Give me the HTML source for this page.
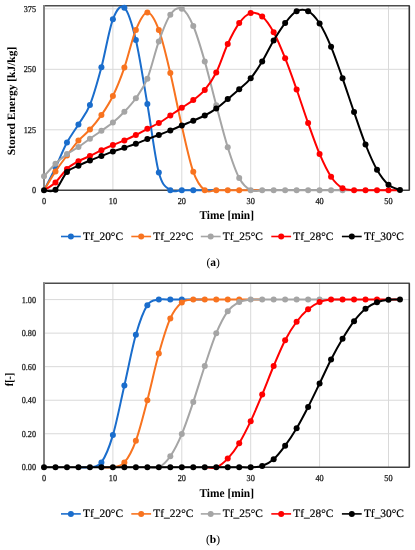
<!DOCTYPE html>
<html><head><meta charset="utf-8"><style>
html,body{margin:0;padding:0;background:#fff;}
svg{display:block;text-rendering:geometricPrecision;}
.tk{font-family:"Liberation Serif",serif;font-size:9px;fill:#262626;stroke:#262626;stroke-width:0.3px;}
.ttl{font-family:"Liberation Serif",serif;font-size:11.2px;font-weight:bold;fill:#000;}
.lg{font-family:"Liberation Serif",serif;font-size:11.4px;fill:#000;stroke:#000;stroke-width:0.2px;}
.cap{font-family:"Liberation Serif",serif;font-size:11.5px;font-weight:bold;fill:#000;}
</style></head><body>
<svg width="415" height="550" viewBox="0 0 415 550">
<rect width="415" height="550" fill="#fff"/>
<line x1="45" y1="129.8" x2="409.0" y2="129.8" stroke="#d9d9d9" stroke-width="1"/>
<line x1="45" y1="69.30000000000001" x2="409.0" y2="69.30000000000001" stroke="#d9d9d9" stroke-width="1"/>
<line x1="45" y1="8.800000000000011" x2="409.0" y2="8.800000000000011" stroke="#d9d9d9" stroke-width="1"/>
<line x1="112.90" y1="5.7" x2="112.90" y2="190.2" stroke="#d9d9d9" stroke-width="1"/>
<line x1="181.80" y1="5.7" x2="181.80" y2="190.2" stroke="#d9d9d9" stroke-width="1"/>
<line x1="250.70" y1="5.7" x2="250.70" y2="190.2" stroke="#d9d9d9" stroke-width="1"/>
<line x1="319.60" y1="5.7" x2="319.60" y2="190.2" stroke="#d9d9d9" stroke-width="1"/>
<line x1="388.50" y1="5.7" x2="388.50" y2="190.2" stroke="#d9d9d9" stroke-width="1"/>
<line x1="43" y1="5.7" x2="409.75" y2="5.7" stroke="#4d4d4d" stroke-width="1.6"/>
<line x1="409.3" y1="5.7" x2="409.3" y2="190.2" stroke="#333" stroke-width="1.6"/>
<line x1="43" y1="190.2" x2="409.75" y2="190.2" stroke="#404040" stroke-width="1.4"/>
<line x1="44" y1="4.9" x2="44" y2="190.89999999999998" stroke="#828282" stroke-width="2"/>
<path d="M44.00,190.30 C45.91,186.52 51.66,175.57 55.48,167.60 C59.31,159.63 63.14,149.70 66.97,142.50 C70.79,135.30 74.62,130.67 78.45,124.40 C82.28,118.13 86.10,114.42 89.93,104.90 C93.76,95.38 97.59,81.57 101.42,67.30 C105.24,53.03 109.07,29.23 112.90,19.30 C116.73,9.37 120.55,4.27 124.38,7.70 C128.21,11.13 132.04,23.85 135.86,39.90 C139.69,55.95 143.52,81.88 147.35,104.00 C151.17,126.12 155.00,158.23 158.83,172.60 C162.66,186.97 166.49,187.27 170.31,190.20 C174.14,193.13 177.97,190.20 181.80,190.20 C185.62,190.20 189.45,190.20 193.28,190.20 C197.11,190.20 200.93,190.20 204.76,190.20 C208.59,190.20 212.42,190.20 216.25,190.20" fill="none" stroke="#1a6dcc" stroke-width="2.0" stroke-linejoin="round"/>
<g fill="#1a6dcc"><circle cx="55.48" cy="167.60" r="3.0"/><circle cx="66.97" cy="142.50" r="3.0"/><circle cx="78.45" cy="124.40" r="3.0"/><circle cx="89.93" cy="104.90" r="3.0"/><circle cx="101.42" cy="67.30" r="3.0"/><circle cx="112.90" cy="19.30" r="3.0"/><circle cx="124.38" cy="7.70" r="3.0"/><circle cx="135.86" cy="39.90" r="3.0"/><circle cx="147.35" cy="104.00" r="3.0"/><circle cx="158.83" cy="172.60" r="3.0"/><circle cx="170.31" cy="190.20" r="3.0"/><circle cx="181.80" cy="190.20" r="3.0"/><circle cx="193.28" cy="190.20" r="3.0"/></g>
<path d="M44.00,190.30 C45.91,187.15 51.66,177.20 55.48,171.40 C59.31,165.60 63.14,160.63 66.97,155.50 C70.79,150.37 74.62,144.93 78.45,140.60 C82.28,136.27 86.10,133.75 89.93,129.50 C93.76,125.25 97.59,120.68 101.42,115.10 C105.24,109.52 109.07,103.92 112.90,96.00 C116.73,88.08 120.55,78.62 124.38,67.60 C128.21,56.58 132.04,39.08 135.86,29.90 C139.69,20.72 143.52,12.50 147.35,12.50 C151.17,12.50 155.00,19.80 158.83,29.90 C162.66,40.00 166.49,57.08 170.31,73.10 C174.14,89.12 177.97,109.55 181.80,126.00 C185.62,142.45 189.45,161.10 193.28,171.80 C197.11,182.50 200.93,187.13 204.76,190.20 C208.59,193.27 212.42,190.20 216.25,190.20 C220.07,190.20 223.90,190.20 227.73,190.20 C231.56,190.20 235.38,190.20 239.21,190.20 C243.04,190.20 246.87,190.20 250.69,190.20 C254.52,190.20 258.35,190.20 262.18,190.20" fill="none" stroke="#f8731f" stroke-width="2.0" stroke-linejoin="round"/>
<g fill="#f8731f"><circle cx="55.48" cy="171.40" r="3.0"/><circle cx="66.97" cy="155.50" r="3.0"/><circle cx="78.45" cy="140.60" r="3.0"/><circle cx="89.93" cy="129.50" r="3.0"/><circle cx="101.42" cy="115.10" r="3.0"/><circle cx="112.90" cy="96.00" r="3.0"/><circle cx="124.38" cy="67.60" r="3.0"/><circle cx="135.86" cy="29.90" r="3.0"/><circle cx="147.35" cy="12.50" r="3.0"/><circle cx="158.83" cy="29.90" r="3.0"/><circle cx="170.31" cy="73.10" r="3.0"/><circle cx="193.28" cy="171.80" r="3.0"/><circle cx="204.76" cy="190.20" r="3.0"/><circle cx="216.25" cy="190.20" r="3.0"/><circle cx="227.73" cy="190.20" r="3.0"/><circle cx="239.21" cy="190.20" r="3.0"/></g>
<path d="M44.00,176.30 C45.91,174.20 51.66,167.40 55.48,163.70 C59.31,160.00 63.14,156.88 66.97,154.10 C70.79,151.32 74.62,149.57 78.45,147.00 C82.28,144.43 86.10,141.40 89.93,138.70 C93.76,136.00 97.59,133.50 101.42,130.80 C105.24,128.10 109.07,125.68 112.90,122.50 C116.73,119.32 120.55,115.75 124.38,111.70 C128.21,107.65 132.04,103.70 135.86,98.20 C139.69,92.70 143.52,88.17 147.35,78.70 C151.17,69.23 155.00,52.05 158.83,41.40 C162.66,30.75 166.49,20.25 170.31,14.80 C174.14,9.35 177.97,6.83 181.80,8.70 C185.62,10.57 189.45,17.22 193.28,26.00 C197.11,34.78 200.93,48.18 204.76,61.40 C208.59,74.62 212.42,91.00 216.25,105.30 C220.07,119.60 223.90,135.08 227.73,147.20 C231.56,159.32 235.38,170.83 239.21,178.00 C243.04,185.17 246.87,188.17 250.69,190.20 C254.52,192.23 258.35,190.20 262.18,190.20 C266.00,190.20 269.83,190.20 273.66,190.20 C277.49,190.20 281.32,190.20 285.14,190.20 C288.97,190.20 292.80,190.20 296.63,190.20 C300.45,190.20 304.28,190.20 308.11,190.20 C311.94,190.20 315.76,190.20 319.59,190.20 C323.42,190.20 327.25,190.20 331.07,190.20 C334.90,190.20 338.73,190.20 342.56,190.20 C346.39,190.20 350.21,190.20 354.04,190.20 C357.87,190.20 361.70,190.20 365.52,190.20" fill="none" stroke="#a5a5a5" stroke-width="2.0" stroke-linejoin="round"/>
<g fill="#a5a5a5"><circle cx="44.00" cy="176.30" r="3.0"/><circle cx="55.48" cy="163.70" r="3.0"/><circle cx="66.97" cy="154.10" r="3.0"/><circle cx="78.45" cy="147.00" r="3.0"/><circle cx="89.93" cy="138.70" r="3.0"/><circle cx="101.42" cy="130.80" r="3.0"/><circle cx="112.90" cy="122.50" r="3.0"/><circle cx="124.38" cy="111.70" r="3.0"/><circle cx="135.86" cy="98.20" r="3.0"/><circle cx="147.35" cy="78.70" r="3.0"/><circle cx="158.83" cy="41.40" r="3.0"/><circle cx="170.31" cy="14.80" r="3.0"/><circle cx="181.80" cy="8.70" r="3.0"/><circle cx="193.28" cy="26.00" r="3.0"/><circle cx="204.76" cy="61.40" r="3.0"/><circle cx="216.25" cy="105.30" r="3.0"/><circle cx="227.73" cy="147.20" r="3.0"/><circle cx="239.21" cy="178.00" r="3.0"/><circle cx="250.69" cy="190.20" r="3.0"/><circle cx="262.18" cy="190.20" r="3.0"/><circle cx="273.66" cy="190.20" r="3.0"/><circle cx="285.14" cy="190.20" r="3.0"/><circle cx="296.63" cy="190.20" r="3.0"/><circle cx="308.11" cy="190.20" r="3.0"/><circle cx="319.59" cy="190.20" r="3.0"/><circle cx="331.07" cy="190.20" r="3.0"/><circle cx="342.56" cy="190.20" r="3.0"/></g>
<path d="M44.00,190.30 C45.91,188.98 51.66,185.97 55.48,182.40 C59.31,178.83 63.14,172.43 66.97,168.90 C70.79,165.37 74.62,163.35 78.45,161.20 C82.28,159.05 86.10,157.83 89.93,156.00 C93.76,154.17 97.59,152.03 101.42,150.20 C105.24,148.37 109.07,146.63 112.90,145.00 C116.73,143.37 120.55,142.07 124.38,140.40 C128.21,138.73 132.04,136.93 135.86,135.00 C139.69,133.07 143.52,130.80 147.35,128.80 C151.17,126.80 155.00,125.22 158.83,123.00 C162.66,120.78 166.49,118.03 170.31,115.50 C174.14,112.97 177.97,110.37 181.80,107.80 C185.62,105.23 189.45,103.08 193.28,100.10 C197.11,97.12 200.93,94.50 204.76,89.90 C208.59,85.30 212.42,80.15 216.25,72.50 C220.07,64.85 223.90,52.23 227.73,44.00 C231.56,35.77 235.38,28.25 239.21,23.10 C243.04,17.95 246.87,14.22 250.69,13.10 C254.52,11.98 258.35,13.22 262.18,16.40 C266.00,19.58 269.83,25.23 273.66,32.20 C277.49,39.17 281.32,48.65 285.14,58.20 C288.97,67.75 292.80,78.68 296.63,89.50 C300.45,100.32 304.28,112.37 308.11,123.10 C311.94,133.83 315.76,144.97 319.59,153.90 C323.42,162.83 327.25,170.98 331.07,176.70 C334.90,182.42 338.73,185.95 342.56,188.20 C346.39,190.45 350.21,189.87 354.04,190.20 C357.87,190.53 361.70,190.20 365.52,190.20 C369.35,190.20 373.18,190.20 377.01,190.20 C380.83,190.20 384.66,190.20 388.49,190.20 C392.32,190.20 398.06,190.20 399.97,190.20" fill="none" stroke="#ff0000" stroke-width="2.0" stroke-linejoin="round"/>
<g fill="#ff0000"><circle cx="55.48" cy="182.40" r="3.0"/><circle cx="66.97" cy="168.90" r="3.0"/><circle cx="78.45" cy="161.20" r="3.0"/><circle cx="89.93" cy="156.00" r="3.0"/><circle cx="101.42" cy="150.20" r="3.0"/><circle cx="112.90" cy="145.00" r="3.0"/><circle cx="124.38" cy="140.40" r="3.0"/><circle cx="135.86" cy="135.00" r="3.0"/><circle cx="147.35" cy="128.80" r="3.0"/><circle cx="158.83" cy="123.00" r="3.0"/><circle cx="170.31" cy="115.50" r="3.0"/><circle cx="181.80" cy="107.80" r="3.0"/><circle cx="193.28" cy="100.10" r="3.0"/><circle cx="204.76" cy="89.90" r="3.0"/><circle cx="216.25" cy="72.50" r="3.0"/><circle cx="227.73" cy="44.00" r="3.0"/><circle cx="239.21" cy="23.10" r="3.0"/><circle cx="250.69" cy="13.10" r="3.0"/><circle cx="262.18" cy="16.40" r="3.0"/><circle cx="273.66" cy="32.20" r="3.0"/><circle cx="285.14" cy="58.20" r="3.0"/><circle cx="296.63" cy="89.50" r="3.0"/><circle cx="308.11" cy="123.10" r="3.0"/><circle cx="319.59" cy="153.90" r="3.0"/><circle cx="331.07" cy="176.70" r="3.0"/><circle cx="342.56" cy="188.20" r="3.0"/><circle cx="354.04" cy="190.20" r="3.0"/><circle cx="365.52" cy="190.20" r="3.0"/><circle cx="377.01" cy="190.20" r="3.0"/><circle cx="388.49" cy="190.20" r="3.0"/></g>
<path d="M44.00,190.30 C45.91,190.22 51.66,192.85 55.48,189.80 C59.31,186.75 63.14,176.02 66.97,172.00 C70.79,167.98 74.62,167.62 78.45,165.70 C82.28,163.78 86.10,162.12 89.93,160.50 C93.76,158.88 97.59,157.48 101.42,156.00 C105.24,154.52 109.07,152.98 112.90,151.60 C116.73,150.22 120.55,149.02 124.38,147.70 C128.21,146.38 132.04,145.13 135.86,143.70 C139.69,142.27 143.52,140.55 147.35,139.10 C151.17,137.65 155.00,136.45 158.83,135.00 C162.66,133.55 166.49,131.98 170.31,130.40 C174.14,128.82 177.97,127.12 181.80,125.50 C185.62,123.88 189.45,122.37 193.28,120.70 C197.11,119.03 200.93,117.52 204.76,115.50 C208.59,113.48 212.42,111.33 216.25,108.60 C220.07,105.87 223.90,102.32 227.73,99.10 C231.56,95.88 235.38,92.77 239.21,89.30 C243.04,85.83 246.87,82.93 250.69,78.30 C254.52,73.67 258.35,67.80 262.18,61.50 C266.00,55.20 269.83,46.90 273.66,40.50 C277.49,34.10 281.32,27.98 285.14,23.10 C288.97,18.22 292.80,13.18 296.63,11.20 C300.45,9.22 304.28,9.15 308.11,11.20 C311.94,13.25 315.76,17.57 319.59,23.50 C323.42,29.43 327.25,37.67 331.07,46.80 C334.90,55.93 338.73,67.42 342.56,78.30 C346.39,89.18 350.21,101.07 354.04,112.10 C357.87,123.13 361.70,134.88 365.52,144.50 C369.35,154.12 373.18,163.08 377.01,169.80 C380.83,176.52 384.66,181.43 388.49,184.80 C392.32,188.17 398.06,189.13 399.97,190.00" fill="none" stroke="#000000" stroke-width="2.0" stroke-linejoin="round"/>
<g fill="#000000"><circle cx="44.00" cy="190.30" r="3.0"/><circle cx="55.48" cy="189.80" r="3.0"/><circle cx="66.97" cy="172.00" r="3.0"/><circle cx="78.45" cy="165.70" r="3.0"/><circle cx="89.93" cy="160.50" r="3.0"/><circle cx="101.42" cy="156.00" r="3.0"/><circle cx="112.90" cy="151.60" r="3.0"/><circle cx="124.38" cy="147.70" r="3.0"/><circle cx="135.86" cy="143.70" r="3.0"/><circle cx="147.35" cy="139.10" r="3.0"/><circle cx="158.83" cy="135.00" r="3.0"/><circle cx="170.31" cy="130.40" r="3.0"/><circle cx="181.80" cy="125.50" r="3.0"/><circle cx="193.28" cy="120.70" r="3.0"/><circle cx="204.76" cy="115.50" r="3.0"/><circle cx="216.25" cy="108.60" r="3.0"/><circle cx="227.73" cy="99.10" r="3.0"/><circle cx="239.21" cy="89.30" r="3.0"/><circle cx="250.69" cy="78.30" r="3.0"/><circle cx="262.18" cy="61.50" r="3.0"/><circle cx="273.66" cy="40.50" r="3.0"/><circle cx="285.14" cy="23.10" r="3.0"/><circle cx="296.63" cy="11.20" r="3.0"/><circle cx="308.11" cy="11.20" r="3.0"/><circle cx="319.59" cy="23.50" r="3.0"/><circle cx="331.07" cy="46.80" r="3.0"/><circle cx="342.56" cy="78.30" r="3.0"/><circle cx="354.04" cy="112.10" r="3.0"/><circle cx="365.52" cy="144.50" r="3.0"/><circle cx="377.01" cy="169.80" r="3.0"/><circle cx="388.49" cy="184.80" r="3.0"/><circle cx="399.97" cy="190.00" r="3.0"/></g>
<text transform="translate(36.0,193.30) scale(0.91,1)" text-anchor="end" class="tk">0</text>
<text transform="translate(36.0,132.90) scale(0.91,1)" text-anchor="end" class="tk">125</text>
<text transform="translate(36.0,72.40) scale(0.91,1)" text-anchor="end" class="tk">250</text>
<text transform="translate(36.0,11.90) scale(0.91,1)" text-anchor="end" class="tk">375</text>
<text transform="translate(44.00,203.70) scale(0.92,1)" text-anchor="middle" class="tk">0</text>
<text transform="translate(112.90,203.70) scale(0.92,1)" text-anchor="middle" class="tk">10</text>
<text transform="translate(181.80,203.70) scale(0.92,1)" text-anchor="middle" class="tk">20</text>
<text transform="translate(250.70,203.70) scale(0.92,1)" text-anchor="middle" class="tk">30</text>
<text transform="translate(319.60,203.70) scale(0.92,1)" text-anchor="middle" class="tk">40</text>
<text transform="translate(388.50,203.70) scale(0.92,1)" text-anchor="middle" class="tk">50</text>
<text transform="translate(14.9,101.0) rotate(-90) scale(1.023,1)" text-anchor="middle" class="ttl">Stored Energy [kJ/kg]</text>
<text transform="translate(226.7,219.0) scale(0.95,1)" text-anchor="middle" class="ttl" style="font-size:12px">Time [min]</text>
<line x1="61.0" y1="236.5" x2="80.8" y2="236.5" stroke="#1a6dcc" stroke-width="1.6"/>
<circle cx="70.90" cy="236.5" r="3.0" fill="#1a6dcc"/>
<text x="83.00" y="240.00" class="lg">Tf_20°C</text>
<line x1="131.3" y1="236.5" x2="151.10000000000002" y2="236.5" stroke="#f8731f" stroke-width="1.6"/>
<circle cx="141.20" cy="236.5" r="3.0" fill="#f8731f"/>
<text x="153.30" y="240.00" class="lg">Tf_22°C</text>
<line x1="200.8" y1="236.5" x2="220.60000000000002" y2="236.5" stroke="#a5a5a5" stroke-width="1.6"/>
<circle cx="210.70" cy="236.5" r="3.0" fill="#a5a5a5"/>
<text x="222.80" y="240.00" class="lg">Tf_25°C</text>
<line x1="271.3" y1="236.5" x2="291.1" y2="236.5" stroke="#ff0000" stroke-width="1.6"/>
<circle cx="281.20" cy="236.5" r="3.0" fill="#ff0000"/>
<text x="293.30" y="240.00" class="lg">Tf_28°C</text>
<line x1="341.9" y1="236.5" x2="361.7" y2="236.5" stroke="#000000" stroke-width="1.6"/>
<circle cx="351.80" cy="236.5" r="3.0" fill="#000000"/>
<text x="363.90" y="240.00" class="lg">Tf_30°C</text>
<text x="213.1" y="266.2" text-anchor="middle" class="cap"><tspan font-weight="normal">(</tspan>a<tspan font-weight="normal">)</tspan></text>
<line x1="45" y1="433.76" x2="409.0" y2="433.76" stroke="#d9d9d9" stroke-width="1"/>
<line x1="45" y1="400.22" x2="409.0" y2="400.22" stroke="#d9d9d9" stroke-width="1"/>
<line x1="45" y1="366.68" x2="409.0" y2="366.68" stroke="#d9d9d9" stroke-width="1"/>
<line x1="45" y1="333.14" x2="409.0" y2="333.14" stroke="#d9d9d9" stroke-width="1"/>
<line x1="45" y1="299.6" x2="409.0" y2="299.6" stroke="#d9d9d9" stroke-width="1"/>
<line x1="112.90" y1="283.3" x2="112.90" y2="467.3" stroke="#d9d9d9" stroke-width="1"/>
<line x1="181.80" y1="283.3" x2="181.80" y2="467.3" stroke="#d9d9d9" stroke-width="1"/>
<line x1="250.70" y1="283.3" x2="250.70" y2="467.3" stroke="#d9d9d9" stroke-width="1"/>
<line x1="319.60" y1="283.3" x2="319.60" y2="467.3" stroke="#d9d9d9" stroke-width="1"/>
<line x1="388.50" y1="283.3" x2="388.50" y2="467.3" stroke="#d9d9d9" stroke-width="1"/>
<line x1="43" y1="283.3" x2="409.75" y2="283.3" stroke="#4d4d4d" stroke-width="1.6"/>
<line x1="409.3" y1="283.3" x2="409.3" y2="467.3" stroke="#333" stroke-width="1.6"/>
<line x1="43" y1="467.3" x2="409.75" y2="467.3" stroke="#404040" stroke-width="1.4"/>
<line x1="44" y1="282.5" x2="44" y2="468.0" stroke="#828282" stroke-width="2"/>
<path d="M78.45,467.30 C82.28,467.30 86.10,468.11 89.93,467.30 C93.76,466.49 97.59,467.80 101.42,462.44 C105.24,457.07 109.07,447.93 112.90,435.10 C116.73,422.27 120.55,402.18 124.38,385.46 C128.21,368.75 132.04,348.21 135.86,334.82 C139.69,321.43 143.52,311.00 147.35,305.13 C151.17,299.26 155.00,300.52 158.83,299.60 C162.66,298.68 166.49,299.60 170.31,299.60 C174.14,299.60 177.97,299.60 181.80,299.60 C185.62,299.60 189.45,299.60 193.28,299.60 C197.11,299.60 200.93,299.60 204.76,299.60" fill="none" stroke="#1a6dcc" stroke-width="2.0" stroke-linejoin="round"/>
<g fill="#1a6dcc"><circle cx="101.42" cy="462.44" r="3.0"/><circle cx="112.90" cy="435.10" r="3.0"/><circle cx="124.38" cy="385.46" r="3.0"/><circle cx="135.86" cy="334.82" r="3.0"/><circle cx="147.35" cy="305.13" r="3.0"/><circle cx="158.83" cy="299.60" r="3.0"/><circle cx="170.31" cy="299.60" r="3.0"/><circle cx="181.80" cy="299.60" r="3.0"/></g>
<path d="M101.42,467.30 C105.24,467.30 109.07,468.11 112.90,467.30 C116.73,466.49 120.55,466.85 124.38,462.44 C128.21,458.02 132.04,451.17 135.86,440.80 C139.69,430.43 143.52,414.75 147.35,400.22 C151.17,385.69 155.00,367.24 158.83,353.60 C162.66,339.96 166.49,326.91 170.31,318.38 C174.14,309.86 177.97,305.58 181.80,302.45 C185.62,299.32 189.45,300.08 193.28,299.60 C197.11,299.12 200.93,299.60 204.76,299.60 C208.59,299.60 212.42,299.60 216.25,299.60 C220.07,299.60 223.90,299.60 227.73,299.60 C231.56,299.60 235.38,299.60 239.21,299.60 C243.04,299.60 246.87,299.60 250.69,299.60 C254.52,299.60 258.35,299.60 262.18,299.60" fill="none" stroke="#f8731f" stroke-width="2.0" stroke-linejoin="round"/>
<g fill="#f8731f"><circle cx="124.38" cy="462.44" r="3.0"/><circle cx="135.86" cy="440.80" r="3.0"/><circle cx="147.35" cy="400.22" r="3.0"/><circle cx="158.83" cy="353.60" r="3.0"/><circle cx="170.31" cy="318.38" r="3.0"/><circle cx="181.80" cy="302.45" r="3.0"/><circle cx="193.28" cy="299.60" r="3.0"/><circle cx="204.76" cy="299.60" r="3.0"/><circle cx="216.25" cy="299.60" r="3.0"/><circle cx="227.73" cy="299.60" r="3.0"/><circle cx="239.21" cy="299.60" r="3.0"/></g>
<path d="M147.35,467.30 C151.17,467.30 155.00,469.14 158.83,467.30 C162.66,465.46 166.49,461.77 170.31,456.23 C174.14,450.70 177.97,443.15 181.80,434.10 C185.62,425.04 189.45,413.24 193.28,401.90 C197.11,390.55 200.93,377.47 204.76,366.01 C208.59,354.55 212.42,342.25 216.25,333.14 C220.07,324.03 223.90,316.51 227.73,311.34 C231.56,306.17 235.38,304.07 239.21,302.12 C243.04,300.16 246.87,300.02 250.69,299.60 C254.52,299.18 258.35,299.60 262.18,299.60 C266.00,299.60 269.83,299.60 273.66,299.60 C277.49,299.60 281.32,299.60 285.14,299.60 C288.97,299.60 292.80,299.60 296.63,299.60 C300.45,299.60 304.28,299.60 308.11,299.60 C311.94,299.60 315.76,299.60 319.59,299.60 C323.42,299.60 327.25,299.60 331.07,299.60 C334.90,299.60 338.73,299.60 342.56,299.60" fill="none" stroke="#a5a5a5" stroke-width="2.0" stroke-linejoin="round"/>
<g fill="#a5a5a5"><circle cx="170.31" cy="456.23" r="3.0"/><circle cx="181.80" cy="434.10" r="3.0"/><circle cx="193.28" cy="401.90" r="3.0"/><circle cx="204.76" cy="366.01" r="3.0"/><circle cx="216.25" cy="333.14" r="3.0"/><circle cx="227.73" cy="311.34" r="3.0"/><circle cx="239.21" cy="302.12" r="3.0"/><circle cx="250.69" cy="299.60" r="3.0"/><circle cx="262.18" cy="299.60" r="3.0"/><circle cx="273.66" cy="299.60" r="3.0"/><circle cx="285.14" cy="299.60" r="3.0"/><circle cx="296.63" cy="299.60" r="3.0"/><circle cx="308.11" cy="299.60" r="3.0"/><circle cx="319.59" cy="299.60" r="3.0"/></g>
<path d="M204.76,467.30 C208.59,467.30 212.42,468.75 216.25,467.30 C220.07,465.85 223.90,462.60 227.73,458.58 C231.56,454.55 235.38,449.38 239.21,443.15 C243.04,436.92 246.87,429.29 250.69,421.18 C254.52,413.08 258.35,403.71 262.18,394.52 C266.00,385.32 269.83,375.07 273.66,366.01 C277.49,356.95 281.32,347.56 285.14,340.18 C288.97,332.80 292.80,326.88 296.63,321.74 C300.45,316.59 304.28,312.60 308.11,309.33 C311.94,306.06 315.76,303.74 319.59,302.12 C323.42,300.49 327.25,300.02 331.07,299.60 C334.90,299.18 338.73,299.60 342.56,299.60 C346.39,299.60 350.21,299.60 354.04,299.60 C357.87,299.60 361.70,299.60 365.52,299.60 C369.35,299.60 373.18,299.60 377.01,299.60 C380.83,299.60 384.66,299.60 388.49,299.60 C392.32,299.60 398.06,299.60 399.97,299.60" fill="none" stroke="#ff0000" stroke-width="2.0" stroke-linejoin="round"/>
<g fill="#ff0000"><circle cx="227.73" cy="458.58" r="3.0"/><circle cx="239.21" cy="443.15" r="3.0"/><circle cx="250.69" cy="421.18" r="3.0"/><circle cx="262.18" cy="394.52" r="3.0"/><circle cx="273.66" cy="366.01" r="3.0"/><circle cx="285.14" cy="340.18" r="3.0"/><circle cx="296.63" cy="321.74" r="3.0"/><circle cx="308.11" cy="309.33" r="3.0"/><circle cx="319.59" cy="302.12" r="3.0"/><circle cx="331.07" cy="299.60" r="3.0"/><circle cx="342.56" cy="299.60" r="3.0"/><circle cx="354.04" cy="299.60" r="3.0"/><circle cx="365.52" cy="299.60" r="3.0"/><circle cx="377.01" cy="299.60" r="3.0"/></g>
<path d="M44.00,467.30 C45.91,467.30 51.66,467.30 55.48,467.30 C59.31,467.30 63.14,467.30 66.97,467.30 C70.79,467.30 74.62,467.30 78.45,467.30 C82.28,467.30 86.10,467.30 89.93,467.30 C93.76,467.30 97.59,467.30 101.42,467.30 C105.24,467.30 109.07,467.30 112.90,467.30 C116.73,467.30 120.55,467.30 124.38,467.30 C128.21,467.30 132.04,467.30 135.86,467.30 C139.69,467.30 143.52,467.30 147.35,467.30 C151.17,467.30 155.00,467.30 158.83,467.30 C162.66,467.30 166.49,467.30 170.31,467.30 C174.14,467.30 177.97,467.30 181.80,467.30 C185.62,467.30 189.45,467.30 193.28,467.30 C197.11,467.30 200.93,467.30 204.76,467.30 C208.59,467.30 212.42,467.30 216.25,467.30 C220.07,467.30 223.90,467.30 227.73,467.30 C231.56,467.30 235.38,467.30 239.21,467.30 C243.04,467.30 246.87,467.52 250.69,467.30 C254.52,467.08 258.35,467.30 262.18,465.96 C266.00,464.62 269.83,462.63 273.66,459.25 C277.49,455.87 281.32,450.84 285.14,445.67 C288.97,440.50 292.80,434.68 296.63,428.23 C300.45,421.77 304.28,414.39 308.11,406.93 C311.94,399.47 315.76,391.36 319.59,383.45 C323.42,375.54 327.25,366.90 331.07,359.47 C334.90,352.03 338.73,345.21 342.56,338.84 C346.39,332.47 350.21,326.24 354.04,321.23 C357.87,316.23 361.70,311.98 365.52,308.82 C369.35,305.67 373.18,303.79 377.01,302.28 C380.83,300.77 384.66,300.21 388.49,299.77 C392.32,299.32 398.06,299.63 399.97,299.60" fill="none" stroke="#000000" stroke-width="2.0" stroke-linejoin="round"/>
<g fill="#000000"><circle cx="44.00" cy="467.30" r="3.0"/><circle cx="55.48" cy="467.30" r="3.0"/><circle cx="66.97" cy="467.30" r="3.0"/><circle cx="78.45" cy="467.30" r="3.0"/><circle cx="89.93" cy="467.30" r="3.0"/><circle cx="101.42" cy="467.30" r="3.0"/><circle cx="112.90" cy="467.30" r="3.0"/><circle cx="124.38" cy="467.30" r="3.0"/><circle cx="135.86" cy="467.30" r="3.0"/><circle cx="147.35" cy="467.30" r="3.0"/><circle cx="158.83" cy="467.30" r="3.0"/><circle cx="170.31" cy="467.30" r="3.0"/><circle cx="181.80" cy="467.30" r="3.0"/><circle cx="193.28" cy="467.30" r="3.0"/><circle cx="204.76" cy="467.30" r="3.0"/><circle cx="216.25" cy="467.30" r="3.0"/><circle cx="227.73" cy="467.30" r="3.0"/><circle cx="239.21" cy="467.30" r="3.0"/><circle cx="250.69" cy="467.30" r="3.0"/><circle cx="262.18" cy="465.96" r="3.0"/><circle cx="273.66" cy="459.25" r="3.0"/><circle cx="285.14" cy="445.67" r="3.0"/><circle cx="296.63" cy="428.23" r="3.0"/><circle cx="308.11" cy="406.93" r="3.0"/><circle cx="319.59" cy="383.45" r="3.0"/><circle cx="331.07" cy="359.47" r="3.0"/><circle cx="342.56" cy="338.84" r="3.0"/><circle cx="354.04" cy="321.23" r="3.0"/><circle cx="365.52" cy="308.82" r="3.0"/><circle cx="377.01" cy="302.28" r="3.0"/><circle cx="388.49" cy="299.77" r="3.0"/><circle cx="399.97" cy="299.60" r="3.0"/></g>
<text transform="translate(36.0,470.40) scale(0.91,1)" text-anchor="end" class="tk">0.00</text>
<text transform="translate(36.0,436.86) scale(0.91,1)" text-anchor="end" class="tk">0.20</text>
<text transform="translate(36.0,403.32) scale(0.91,1)" text-anchor="end" class="tk">0.40</text>
<text transform="translate(36.0,369.78) scale(0.91,1)" text-anchor="end" class="tk">0.60</text>
<text transform="translate(36.0,336.24) scale(0.91,1)" text-anchor="end" class="tk">0.80</text>
<text transform="translate(36.0,302.70) scale(0.91,1)" text-anchor="end" class="tk">1.00</text>
<text transform="translate(44.00,481.00) scale(0.92,1)" text-anchor="middle" class="tk">0</text>
<text transform="translate(112.90,481.00) scale(0.92,1)" text-anchor="middle" class="tk">10</text>
<text transform="translate(181.80,481.00) scale(0.92,1)" text-anchor="middle" class="tk">20</text>
<text transform="translate(250.70,481.00) scale(0.92,1)" text-anchor="middle" class="tk">30</text>
<text transform="translate(319.60,481.00) scale(0.92,1)" text-anchor="middle" class="tk">40</text>
<text transform="translate(388.50,481.00) scale(0.92,1)" text-anchor="middle" class="tk">50</text>
<text transform="translate(13.4,379.4) rotate(-90) scale(0.88,1)" text-anchor="middle" class="ttl" style="font-size:11.5px">f[-]</text>
<text transform="translate(226.7,496.7) scale(0.95,1)" text-anchor="middle" class="ttl" style="font-size:12px">Time [min]</text>
<line x1="61.0" y1="513.9" x2="80.8" y2="513.9" stroke="#1a6dcc" stroke-width="1.6"/>
<circle cx="70.90" cy="513.9" r="3.0" fill="#1a6dcc"/>
<text x="83.00" y="517.40" class="lg">Tf_20°C</text>
<line x1="131.3" y1="513.9" x2="151.10000000000002" y2="513.9" stroke="#f8731f" stroke-width="1.6"/>
<circle cx="141.20" cy="513.9" r="3.0" fill="#f8731f"/>
<text x="153.30" y="517.40" class="lg">Tf_22°C</text>
<line x1="200.8" y1="513.9" x2="220.60000000000002" y2="513.9" stroke="#a5a5a5" stroke-width="1.6"/>
<circle cx="210.70" cy="513.9" r="3.0" fill="#a5a5a5"/>
<text x="222.80" y="517.40" class="lg">Tf_25°C</text>
<line x1="271.3" y1="513.9" x2="291.1" y2="513.9" stroke="#ff0000" stroke-width="1.6"/>
<circle cx="281.20" cy="513.9" r="3.0" fill="#ff0000"/>
<text x="293.30" y="517.40" class="lg">Tf_28°C</text>
<line x1="341.9" y1="513.9" x2="361.7" y2="513.9" stroke="#000000" stroke-width="1.6"/>
<circle cx="351.80" cy="513.9" r="3.0" fill="#000000"/>
<text x="363.90" y="517.40" class="lg">Tf_30°C</text>
<text x="213.0" y="543.3" text-anchor="middle" class="cap"><tspan font-weight="normal">(</tspan>b<tspan font-weight="normal">)</tspan></text>
</svg>
</body></html>
